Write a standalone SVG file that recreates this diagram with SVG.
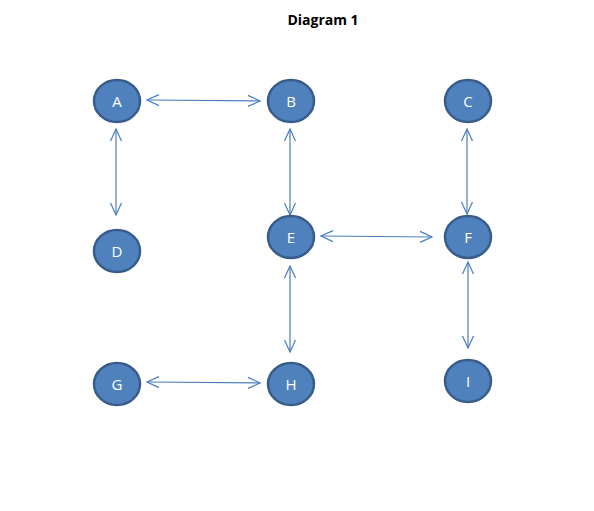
<svg xmlns="http://www.w3.org/2000/svg" width="594" height="511" viewBox="0 0 594 511">
<defs>
<style>
.n ellipse{fill:#4F81BD;stroke:#385D8A;stroke-width:2.5}
.n text{fill:#fff;font-family:"Open Sans","Liberation Sans",sans-serif;font-size:15px;text-anchor:middle;dominant-baseline:central}
.c line{stroke:#4A7EBB;stroke-width:1.2;fill:none;marker-start:url(#h);marker-end:url(#h)}
.t{font-family:"Open Sans","Liberation Sans",sans-serif;font-size:14px;font-weight:bold;text-anchor:middle;fill:#000}
</style>
<marker id="h" viewBox="0 0 14 14" refX="13" refY="7" markerWidth="14" markerHeight="14" markerUnits="userSpaceOnUse" orient="auto-start-reverse">
<path d="M1,1.5 L13,7 L1,12.5" fill="none" stroke="#4A7EBB" stroke-width="1.2"/>
</marker>
</defs>
<rect width="594" height="511" fill="#fff"/>
<text class="t" x="323" y="25">Diagram 1</text>
<g class="c" id="connectors">
<line x1="147" y1="100" x2="260" y2="101"/>
<line x1="116" y1="129" x2="116" y2="215"/>
<line x1="290" y1="129" x2="290" y2="215"/>
<line x1="321" y1="236" x2="432" y2="237"/>
<line x1="467" y1="129" x2="467" y2="214"/>
<line x1="290" y1="266" x2="290" y2="352"/>
<line x1="468" y1="262" x2="468" y2="348"/>
<line x1="147" y1="382" x2="260" y2="383"/>
</g>
<g class="n" id="A"><ellipse cx="117" cy="101" rx="23" ry="21"/><text x="117" y="101">A</text></g>
<g class="n" id="B"><ellipse cx="291" cy="101" rx="23" ry="21"/><text x="291" y="101">B</text></g>
<g class="n" id="C"><ellipse cx="468" cy="101" rx="23" ry="21"/><text x="468" y="101">C</text></g>
<g class="n" id="D"><ellipse cx="117" cy="251" rx="23" ry="21"/><text x="117" y="251">D</text></g>
<g class="n" id="E"><ellipse cx="291" cy="237" rx="23" ry="21"/><text x="291" y="237">E</text></g>
<g class="n" id="F"><ellipse cx="468" cy="237" rx="23" ry="21"/><text x="468" y="237">F</text></g>
<g class="n" id="G"><ellipse cx="117" cy="384" rx="23" ry="21"/><text x="117" y="384">G</text></g>
<g class="n" id="H"><ellipse cx="291" cy="384" rx="23" ry="21"/><text x="291" y="384">H</text></g>
<g class="n" id="I"><ellipse cx="468" cy="381" rx="23" ry="21"/><text x="468" y="381">I</text></g>
</svg>
